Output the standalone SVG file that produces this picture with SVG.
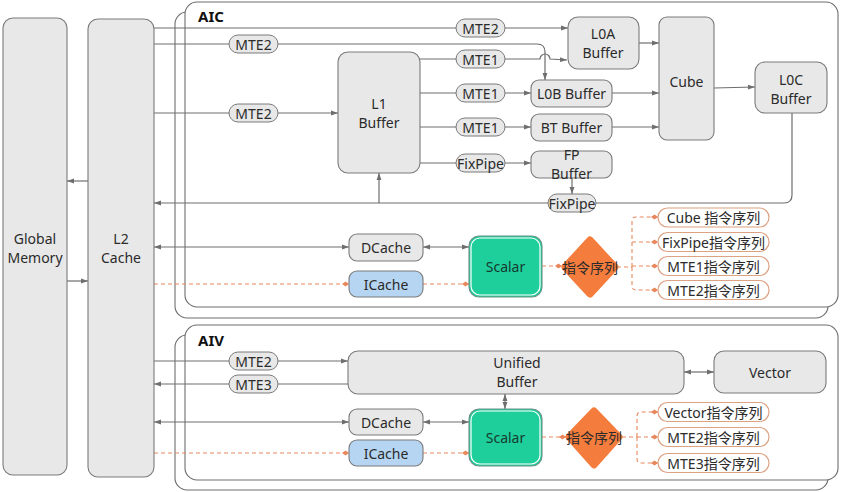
<svg xmlns="http://www.w3.org/2000/svg" width="842" height="492" viewBox="0 0 842 492">
<defs>
<style>
text{font-family:"Noto Sans","Open Sans","Noto Sans CJK SC",sans-serif;font-size:14px;fill:#2b2b2b;text-anchor:middle;dominant-baseline:central}
.box{fill:#e8e8e8;stroke:#7a7a7a;stroke-width:1.1}
.cont{fill:#fff;stroke:#6e6e6e;stroke-width:1.1}
.ln{fill:none;stroke:#6e6e6e;stroke-width:1.2}
.dl{fill:none;stroke:#e8875c;stroke-width:1.1;stroke-dasharray:4 3}
.pill{fill:#e8e8e8;stroke:#7a7a7a;stroke-width:1}
.opill{fill:#fff;stroke:#dda183;stroke-width:1.2}
.ttl{font-weight:bold;font-size:15px;text-anchor:start;fill:#111}
.ic{fill:#b5d5f2;stroke:#7a7a7a;stroke-width:1.1}
.sc{fill:#1ecf9b;stroke:#6a8f84;stroke-width:1.1}
.sci{fill:none;stroke:#fff;stroke-width:1.2}
.dia{fill:#f47c3c;stroke:#f47c3c;stroke-width:7;stroke-linejoin:round}
</style>
<marker id="a" viewBox="0 0 10 10" refX="10" refY="5" markerWidth="7" markerHeight="7" markerUnits="userSpaceOnUse" orient="auto-start-reverse"><path d="M0,1.5 L10,5 L0,8.5 z" fill="#6e6e6e"/></marker>
<marker id="o" viewBox="0 0 10 10" refX="10" refY="5" markerWidth="7" markerHeight="7" markerUnits="userSpaceOnUse" orient="auto"><path d="M0,5 L5,1.5 L10,5 L5,8.5 z" fill="#e8875c"/></marker>
</defs>
<rect width="842" height="492" fill="#fff"/>

<g id="aic-container">
<rect class="cont" x="175" y="12" width="653" height="306" rx="12"/>
<rect class="cont" x="185" y="2" width="653" height="305" rx="12"/>
<text class="ttl" x="198" y="16">AIC</text>
</g>
<g id="aiv-container">
<rect class="cont" x="175" y="335" width="653" height="155" rx="12"/>
<rect class="cont" x="185" y="325" width="653" height="155" rx="12"/>
<text class="ttl" x="198" y="340">AIV</text>
</g>

<g id="connectors">
<path class="ln" d="M88,181 H67" marker-end="url(#a)"/>
<path class="ln" d="M67,281 H88" marker-end="url(#a)"/>
<path class="ln" d="M154,28 H568" marker-end="url(#a)"/>
<path class="ln" d="M154,44 H537 Q545,44 545,52 V80" marker-end="url(#a)"/>
<path class="ln" d="M154,113 H338" marker-end="url(#a)"/>
<path class="ln" d="M420,59 H540 A5,5 0 0 1 550,59 L567,60" marker-end="url(#a)"/>
<path class="ln" d="M420,93 H531" marker-end="url(#a)"/>
<path class="ln" d="M420,127 H531" marker-end="url(#a)"/>
<path class="ln" d="M420,163 H531" marker-end="url(#a)"/>
<path class="ln" d="M639,43 H659" marker-end="url(#a)"/>
<path class="ln" d="M612,93 H659" marker-end="url(#a)"/>
<path class="ln" d="M612,127 H659" marker-end="url(#a)"/>
<path class="ln" d="M714,88 L755,87" marker-end="url(#a)"/>
<path class="ln" d="M792,113 V195 Q792,203 784,203 H154" marker-end="url(#a)"/>
<path class="ln" d="M572,178 V194" marker-end="url(#a)"/>
<path class="ln" d="M379,203 V173" marker-end="url(#a)"/>
<path class="ln" d="M154,247 H349" marker-start="url(#a)" marker-end="url(#a)"/>
<path class="ln" d="M423,247 H469" marker-start="url(#a)" marker-end="url(#a)"/>
<path class="dl" d="M154,284 H349" marker-end="url(#o)"/>
<path class="dl" d="M423,284 H469" marker-end="url(#o)"/>
<path class="dl" d="M542,266 H562" marker-end="url(#o)"/>
<path class="dl" d="M617,267 H632"/>
<path class="dl" d="M632,267 V221 Q632,217 636,217 H658" marker-end="url(#o)"/>
<path class="dl" d="M632,242 H658" marker-end="url(#o)"/>
<path class="dl" d="M632,266 H658" marker-end="url(#o)"/>
<path class="dl" d="M632,267 V286 Q632,290 636,290 H658" marker-end="url(#o)"/>

<path class="ln" d="M154,361 H348" marker-end="url(#a)"/>
<path class="ln" d="M348,384 H154" marker-end="url(#a)"/>
<path class="ln" d="M684,372 H714" marker-start="url(#a)" marker-end="url(#a)"/>
<path class="ln" d="M505,394 V409" marker-start="url(#a)" marker-end="url(#a)"/>
<path class="ln" d="M154,422 H349" marker-start="url(#a)" marker-end="url(#a)"/>
<path class="ln" d="M423,422 H469" marker-start="url(#a)" marker-end="url(#a)"/>
<path class="dl" d="M154,453 H349" marker-end="url(#o)"/>
<path class="dl" d="M423,453 H469" marker-end="url(#o)"/>
<path class="dl" d="M542,437 H566" marker-end="url(#o)"/>
<path class="dl" d="M622,437 H637"/>
<path class="dl" d="M637,437 V416 Q637,412 641,412 H658" marker-end="url(#o)"/>
<path class="dl" d="M637,437 H658" marker-end="url(#o)"/>
<path class="dl" d="M637,437 V459 Q637,463 641,463 H658" marker-end="url(#o)"/>

<g id="lbl-aic-mte2-top"><rect class="pill" x="456" y="19" width="49" height="18" rx="9"/><text x="480.5" y="28">MTE2</text></g>
<g id="lbl-aic-mte2-l0b"><rect class="pill" x="229" y="35" width="49" height="18" rx="9"/><text x="253.5" y="44">MTE2</text></g>
<g id="lbl-aic-mte2-l1"><rect class="pill" x="229" y="104" width="49" height="18" rx="9"/><text x="253.5" y="113">MTE2</text></g>
<g id="lbl-aic-mte1-l0a"><rect class="pill" x="456" y="50" width="49" height="18" rx="9"/><text x="480.5" y="59">MTE1</text></g>
<g id="lbl-aic-mte1-l0b"><rect class="pill" x="456" y="84" width="49" height="18" rx="9"/><text x="480.5" y="93">MTE1</text></g>
<g id="lbl-aic-mte1-bt"><rect class="pill" x="456" y="118" width="49" height="18" rx="9"/><text x="480.5" y="127">MTE1</text></g>
<g id="lbl-aic-fixpipe-fp"><rect class="pill" x="456" y="154" width="49" height="18" rx="9"/><text x="480.5" y="163">FixPipe</text></g>
<g id="lbl-aic-fixpipe-out"><rect class="pill" x="548" y="194" width="48" height="18" rx="9"/><text x="572" y="203">FixPipe</text></g>
<g id="lbl-aiv-mte2"><rect class="pill" x="229" y="352" width="49" height="18" rx="9"/><text x="253.5" y="361">MTE2</text></g>
<g id="lbl-aiv-mte3"><rect class="pill" x="229" y="375" width="49" height="18" rx="9"/><text x="253.5" y="384">MTE3</text></g>
</g>

<g id="global-memory"><rect class="box" x="3" y="18" width="64" height="457" rx="10"/><text x="35" y="238">Global</text><text x="35" y="257">Memory</text></g>
<g id="l2-cache"><rect class="box" x="88" y="19" width="66" height="458" rx="10"/><text x="121" y="238">L2</text><text x="121" y="257">Cache</text></g>

<g id="aic-l1"><rect class="box" x="338" y="52" width="82" height="121" rx="10"/><text x="379" y="103">L1</text><text x="379" y="122">Buffer</text></g>
<g id="aic-l0a"><rect class="box" x="568" y="17" width="71" height="52" rx="10"/><text x="603" y="33">L0A</text><text x="603" y="52">Buffer</text></g>
<g id="aic-l0b"><rect class="box" x="531" y="80" width="81" height="27" rx="8"/><text x="571.5" y="93.5">L0B Buffer</text></g>
<g id="aic-bt"><rect class="box" x="531" y="114" width="81" height="27" rx="8"/><text x="571.5" y="127.5">BT Buffer</text></g>
<g id="aic-fp"><rect class="box" x="531" y="151" width="81" height="27" rx="8"/><text x="571.5" y="154">FP</text><text x="571.5" y="173">Buffer</text></g>
<g id="aic-cube"><rect class="box" x="659" y="17" width="55" height="123" rx="8"/><text x="686.5" y="81">Cube</text></g>
<g id="aic-l0c"><rect class="box" x="755" y="62" width="72" height="51" rx="10"/><text x="791" y="79">L0C</text><text x="791" y="98">Buffer</text></g>
<g id="aic-dcache"><rect class="box" x="349" y="234" width="74" height="27" rx="8"/><text x="386" y="247.5">DCache</text></g>
<g id="aic-icache"><rect class="ic" x="349" y="271" width="74" height="26" rx="8"/><text x="386" y="284">ICache</text></g>
<g id="aic-scalar"><rect class="sc" x="469" y="236" width="73" height="61" rx="10"/><rect class="sci" x="471" y="238" width="69" height="57" rx="9"/><text x="505.5" y="266" style="fill:#173a30">Scalar</text></g>
<g id="aic-seq"><path class="dia" d="M590,240 L615,267 L590,294 L565,267 Z"/><text x="590" y="267">指令序列</text></g>
<g id="aic-seq-cube"><rect class="opill" x="658" y="208" width="111" height="19" rx="9.5"/><text x="713.5" y="217.5">Cube 指令序列</text></g>
<g id="aic-seq-fixpipe"><rect class="opill" x="658" y="232.5" width="111" height="19" rx="9.5"/><text x="713.5" y="242">FixPipe指令序列</text></g>
<g id="aic-seq-mte1"><rect class="opill" x="658" y="256.5" width="111" height="19" rx="9.5"/><text x="713.5" y="266">MTE1指令序列</text></g>
<g id="aic-seq-mte2"><rect class="opill" x="658" y="280.5" width="111" height="19" rx="9.5"/><text x="713.5" y="290">MTE2指令序列</text></g>

<g id="aiv-ub"><rect class="box" x="348" y="351" width="336" height="43" rx="10"/><text x="517" y="362">Unified</text><text x="517" y="381">Buffer</text></g>
<g id="aiv-vector"><rect class="box" x="714" y="351" width="112" height="42" rx="10"/><text x="770" y="372">Vector</text></g>
<g id="aiv-dcache"><rect class="box" x="349" y="409" width="74" height="26" rx="8"/><text x="386" y="422">DCache</text></g>
<g id="aiv-icache"><rect class="ic" x="349" y="440" width="74" height="26" rx="8"/><text x="386" y="453">ICache</text></g>
<g id="aiv-scalar"><rect class="sc" x="469" y="409" width="73" height="57" rx="10"/><rect class="sci" x="471" y="411" width="69" height="53" rx="9"/><text x="505.5" y="437.5" style="fill:#173a30">Scalar</text></g>
<g id="aiv-seq"><path class="dia" d="M594,411 L619,437 L594,465 L569,437 Z"/><text x="594" y="437">指令序列</text></g>
<g id="aiv-seq-vector"><rect class="opill" x="658" y="402.5" width="111" height="19" rx="9.5"/><text x="713.5" y="412">Vector指令序列</text></g>
<g id="aiv-seq-mte2"><rect class="opill" x="658" y="427.5" width="111" height="19" rx="9.5"/><text x="713.5" y="437">MTE2指令序列</text></g>
<g id="aiv-seq-mte3"><rect class="opill" x="658" y="453.5" width="111" height="19" rx="9.5"/><text x="713.5" y="463">MTE3指令序列</text></g>
</svg>
